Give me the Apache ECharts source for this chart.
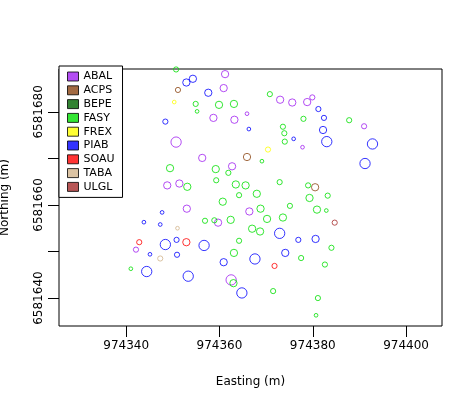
<!DOCTYPE html>
<html><head><meta charset="utf-8">
<script src="https://cdn.jsdelivr.net/npm/echarts@6/dist/echarts.min.js"></script>
<style>html,body{margin:0;padding:0;background:#fff}#c{width:474px;height:401px}</style>
</head><body><div id="c"></div>
<script>
const species = ["ABAL","ACPS","BEPE","FASY","FREX","PIAB","SOAU","TABA","ULGL"];
const speciesColors = ["#A020F0","#8B4513","#006400","#00E000","#FFFF00","#0000FF","#FF0000","#D2B48C","#A52A2A"];
const xTicks = [974340,974360,974380,974400];
const yTicks = [6581640,6581660,6581680];
const yMinorTicks = [6581640,6581650,6581660,6581670,6581680];
// [easting offset from 974300, northing offset from 6581600, dbh]
const ABAL = [[61.2,88.1,16],[60.9,85.1,16],[73.0,82.6,16],[75.6,82.0,16],[78.8,82.1,16],[79.9,83.1,9],[58.7,78.7,16],[63.2,78.3,16],[91.0,76.9,9],[50.7,73.5,26],[77.8,72.4,4],[65.9,79.6,4],[56.3,70.1,16],[62.7,68.3,16],[48.8,64.2,16],[51.4,64.6,16],[53.0,59.2,16],[66.4,58.6,16],[59.7,56.2,16],[42.1,50.4,9],[62.5,43.9,26]];
const ACPS = [[51.1,84.7,9],[65.9,70.3,16],[80.5,63.8,16]];
const BEPE = [];
const FASY = [[50.7,89.1,9],[70.8,83.8,9],[54.9,81.7,9],[59.9,81.5,16],[63.1,81.7,16],[55.2,80.1,4],[78.0,78.5,9],[87.8,78.2,9],[73.6,76.8,9],[73.9,75.4,9],[74.0,73.6,9],[69.1,69.4,4],[49.4,67.9,16],[59.2,67.7,16],[61.9,66.9,9],[53.1,63.9,16],[59.3,65.3,9],[63.5,64.4,16],[65.6,64.2,16],[72.9,64.9,9],[79.0,64.2,9],[64.2,62.1,9],[68.0,62.4,16],[79.3,61.5,16],[83.2,62.0,9],[60.7,60.7,16],[68.8,59.2,16],[75.1,59.8,9],[80.9,59.0,16],[82.9,58.8,4],[56.9,56.6,9],[58.9,56.7,9],[62.4,56.8,16],[70.2,57.0,16],[73.6,57.3,16],[67.0,54.9,16],[68.7,54.3,16],[64.2,52.3,9],[84.0,50.8,9],[63.1,49.7,16],[77.5,48.6,9],[41.0,46.3,4],[82.6,47.2,9],[63.0,43.2,16],[71.5,41.5,9],[81.1,40.0,9],[80.7,36.3,4]];
const FREX = [[50.3,82.1,4],[70.4,71.9,9]];
const PIAB = [[52.9,86.3,16],[54.3,87.1,16],[57.6,84.1,16],[81.2,80.6,9],[48.4,77.9,9],[82.4,78.7,9],[66.3,76.3,4],[82.2,76.1,16],[75.9,74.2,4],[83.0,73.6,26],[92.8,73.1,26],[91.2,68.9,26],[47.7,58.4,4],[43.8,56.3,4],[47.3,55.8,4],[72.9,53.9,26],[76.9,52.5,9],[80.6,52.7,16],[50.8,52.5,9],[48.4,51.5,26],[56.7,51.3,26],[45.1,49.4,4],[50.9,49.3,9],[60.9,47.7,16],[67.6,48.4,26],[74.1,49.7,16],[44.4,45.7,26],[53.3,44.7,26],[64.8,41.1,26]];
const SOAU = [[42.8,52.0,9],[52.9,52.0,16],[71.8,46.9,9]];
const TABA = [[51.0,55.0,4],[47.3,48.5,9]];
const ULGL = [[84.7,56.2,9]];
const groups = [ABAL,ACPS,BEPE,FASY,FREX,PIAB,SOAU,TABA,ULGL];

const series = species.map((s,i)=>({
  name:s, type:'scatter',
  data: groups[i].map(p=>[974300+p[0],6581600+p[1],p[2]]),
  symbol:'circle',
  symbolSize: v=>2.5+v[2]*0.3,
  itemStyle:{color:'transparent',borderColor:speciesColors[i],borderWidth:1},
  emphasis:{disabled:true}
}));
const chart = echarts.init(document.getElementById('c'),null,{renderer:'canvas'});
const font = 'DejaVu Sans';
chart.setOption({
  animation:false,
  textStyle:{fontFamily:font},
  grid:{left:59,right:32,top:69,bottom:75,outerBoundsMode:'none',containLabel:false,show:true,borderColor:'#000',borderWidth:1,backgroundColor:'transparent'},
  legend:{orient:'vertical',left:59,top:66,padding:[5,8,5,8],itemGap:2.8,itemWidth:11,itemHeight:9,icon:'rect',
    backgroundColor:'#fff',borderColor:'#000',borderWidth:1,
    textStyle:{fontSize:11,color:'#000',fontFamily:font},
    data:species.map((s,i)=>({name:s,itemStyle:{color:speciesColors[i],borderColor:'#000',borderWidth:1}}))},
  xAxis:{type:'value',min:974325.6,max:974407.7,
    name:'Easting (m)',nameLocation:'middle',nameGap:50,nameTextStyle:{fontSize:12,color:'#000'},
    splitLine:{show:false},axisLine:{show:false},
    axisTick:{show:true,length:11,lineStyle:{color:'#000'},customValues:xTicks},
    axisLabel:{fontSize:12,color:'#000',margin:14,customValues:xTicks,formatter:v=>String(v)}},
  yAxis:{type:'value',min:6581634,max:6581689.2,
    name:'Northing (m)',nameLocation:'middle',nameGap:48,nameRotate:90,nameTextStyle:{fontSize:12,color:'#000'},
    splitLine:{show:false},axisLine:{show:false},
    axisTick:{show:true,length:11,lineStyle:{color:'#000'},customValues:yMinorTicks},
    axisLabel:{fontSize:12,color:'#000',rotate:90,margin:14,customValues:yTicks,formatter:v=>String(v)}},
  series:series
});
</script></body></html>
